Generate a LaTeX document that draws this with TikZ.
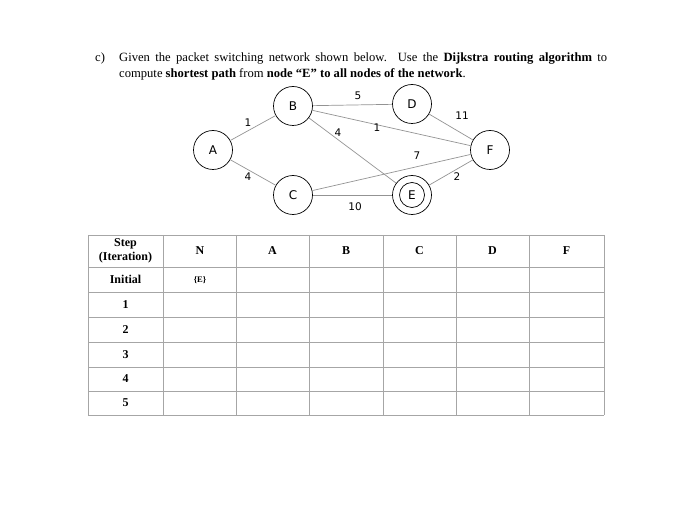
\documentclass[tikz,border=0pt]{standalone}
\usepackage{fontspec}
\setmainfont{Liberation Serif}
\newfontfamily\graphfont{DejaVu Sans}
\usepackage{tikz}
\usetikzlibrary{positioning, calc}

\begin{document}
\begin{tikzpicture}[x=1pt, y=-1pt,
    router/.style={draw=black, line width=0.7pt, circle, minimum size=39pt,
                   inner sep=0pt, font=\graphfont\fontsize{12}{14}\selectfont},
    link/.style={draw=gray!85, line width=0.7pt},
    cost/.style={font=\graphfont\fontsize{10.5}{12}\selectfont, inner sep=1pt},
    gridline/.style={draw=gray!70, line width=0.9pt},
    cellhead/.style={font=\bfseries\fontsize{12}{14}\selectfont, align=center, inner sep=0pt},
  ]
  \useasboundingbox (0,0) rectangle (700,518);

  % question text
  \node[anchor=base west, inner sep=0pt] (qlabel) at (95,62) {\fontsize{12.6}{16}\selectfont c)};
  \node[anchor=base west, inner sep=0pt, text width=488pt, align=justify,
        font=\fontsize{12.6}{16}\selectfont] (qtext) at (119,62)
    {Given the packet switching network shown below. Use the \textbf{Dijkstra routing algorithm} to\linebreak
     compute \textbf{shortest path} from \textbf{node ``E'' to all nodes of the network}.};

  % routers
  \node[router] (A) at (213,150) {A};
  \node[router] (B) at (293,106) {B};
  \node[router] (D) at (412,104) {D};
  \node[router] (F) at (490,150) {F};
  \node[router] (C) at (293,195) {C};
  \node[router] (E) at (412,195) {};
  \node[router, minimum size=25pt] (Ein) at (E) {E};

  % links
  \draw[link] (A) -- (B);
  \draw[link] (A) -- (C);
  \draw[link] (B) -- (D);
  \draw[link] (B) -- (F);
  \draw[link] (B) -- (E);
  \draw[link] (C) -- (F);
  \draw[link] (C) -- (E);
  \draw[link] (D) -- (F);
  \draw[link] (E) -- (F);

  % link costs
  \node[cost] (cAB) at (248,123) {1};
  \node[cost] (cAC) at (248,177) {4};
  \node[cost] (cBD) at (358,96) {5};
  \node[cost] (cBE) at (338,133) {4};
  \node[cost] (cBF) at (377,128) {1};
  \node[cost] (cCF) at (417,156) {7};
  \node[cost] (cDF) at (462,116) {11};
  \node[cost] (cEF) at (457,177) {2};
  \node[cost] (cCE) at (355,207) {10};

  % table grid: columns and rows
  \foreach \cx in {88,163,236,309,383,456,529,604}
    \draw[gridline] (\cx,235) -- (\cx,415);
  \foreach \ry in {235,267,292,317,342,367,391,415}
    \draw[gridline] (88,\ry) -- (604,\ry);

  % header row
  \node[cellhead] (hStep) at (125.5,251) {Step\\(Iteration)};
  \node[cellhead] (hN) at (200,251) {N};
  \node[cellhead] (hA) at (272.5,251) {A};
  \node[cellhead] (hB) at (346,251) {B};
  \node[cellhead] (hC) at (419.5,251) {C};
  \node[cellhead] (hD) at (492.5,251) {D};
  \node[cellhead] (hF) at (566.5,251) {F};

  % step column
  \node[cellhead] (sInit) at (125.5,279.5) {Initial};
  \node[cellhead, font=\bfseries\fontsize{8.5}{10}\selectfont] (nInit) at (200,280) {\{E\}};
  \node[cellhead] (s1) at (125.5,304.5) {1};
  \node[cellhead] (s2) at (125.5,329.5) {2};
  \node[cellhead] (s3) at (125.5,354.5) {3};
  \node[cellhead] (s4) at (125.5,379) {4};
  \node[cellhead] (s5) at (125.5,403) {5};
\end{tikzpicture}
\end{document}
